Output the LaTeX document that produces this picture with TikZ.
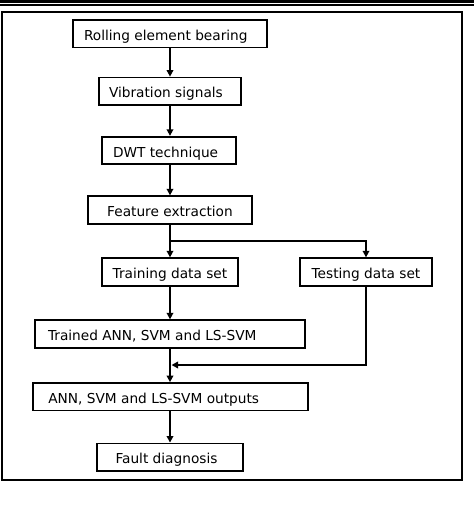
\documentclass[tikz,border=0pt]{standalone}
\usepackage{fontspec}
\setmainfont{DejaVu Sans}
\usetikzlibrary{arrows.meta}
\newcommand{\lbox}[2]{\makebox[#1][l]{#2}}
\begin{document}
\begin{tikzpicture}[x=1pt,y=-1pt,
  stepbox/.style={draw=black, line width=1.8pt, rectangle, minimum height=27.5pt, inner ysep=0pt,
    text height=13.4pt, text depth=0pt,
    font=\fontsize{13.7}{16}\selectfont, text=black, fill=white},
  conn/.style={line width=1.8pt, -{Triangle[width=6.5pt,length=6.5pt]}},
  plain/.style={line width=1.8pt}]
\useasboundingbox (0,0) rectangle (474,505);
% top rules
\draw[line width=2.8pt] (0,1.3) -- (474,1.3);
\draw[line width=1.3pt] (0,5) -- (474,5);
% frame
\draw[line width=2.3pt] (2.2,12.2) rectangle (462,479.8);
% boxes
\node[stepbox, inner xsep=11pt] (r1) at (170,33.8) {\lbox{172pt}{Rolling element bearing}};
\node[stepbox, inner xsep=10pt] (r2) at (170,91.3) {\lbox{122pt}{Vibration signals}};
\node[stepbox, inner xsep=11pt] (r3) at (169,150.5) {\lbox{112pt}{DWT technique}};
\node[stepbox, minimum width=164pt] (r4) at (170,210) {Feature extraction};
\node[stepbox, minimum width=136pt] (train) at (170,272) {Training data set};
\node[stepbox, minimum width=132pt] (test) at (366,272) {Testing data set};
\node[stepbox, inner xsep=13pt] (model) at (170,334) {\lbox{244pt}{Trained ANN, SVM and LS-SVM}};
\node[stepbox, inner xsep=15.6pt] (out) at (170.5,396.8) {\lbox{244.4pt}{ANN, SVM and LS-SVM outputs}};
\node[stepbox, inner xsep=18.7pt] (fault) at (170,457.2) {\lbox{109pt}{Fault diagnosis}};
% connector helpers
\coordinate (br) at (170,241);
\coordinate (mg) at (171.5,365);
% connectors
\draw[conn] (r1) -- (r2);
\draw[conn] (r2) -- (r3.north -| r2.south);
\draw[conn] (r3.south -| r2.south) -- (r4.north -| r2.south);
\draw[conn] (r4.south -| r2.south) -- (train.north -| r2.south);
\draw[conn] (br) -| (test.north);
\draw[conn] (train.south) -- (model.north -| train.south);
\draw[conn] (test.south) |- (mg);
\draw[conn] (model.south -| train.south) -- (out.north -| train.south);
\draw[conn] (out.south -| train.south) -- (fault.north -| train.south);
\end{tikzpicture}
\end{document}
